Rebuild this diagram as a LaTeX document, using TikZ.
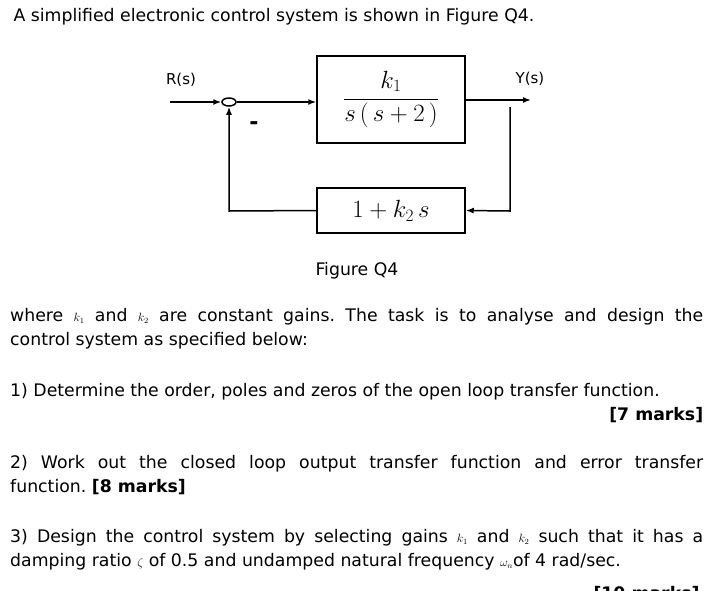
\documentclass[tikz,border=0pt]{standalone}
\usepackage{fontspec}
\setmainfont{DejaVu Sans}
\usetikzlibrary{positioning,arrows.meta,shapes.geometric}
\tikzset{block/.style={draw,line width=1.5pt,minimum width=148pt,inner sep=0pt},
         sig/.style={line width=1.5pt,-{Latex[length=8pt,width=6pt]}},
         para/.style={anchor=north west,text width=693pt,align=justify,inner sep=0pt,font=\fontsize{17.3}{24.5}\selectfont},
         lbl/.style={font=\fontsize{15}{15}\selectfont}}
\newcommand{\kk}[1]{{\fontsize{12}{12}\selectfont$k_{#1}$}}

\begin{document}
\begin{tikzpicture}[x=1pt,y=1pt,font=\fontsize{17.3}{20}\selectfont]
\frenchspacing
\useasboundingbox (0,0) rectangle (720,-590);

\node[anchor=west] (title) at (10,-17) {A simplified electronic control system is shown in Figure Q4.};

\node[block,minimum height=87pt] (G) at (391,-99.5) {};
\node[font=\fontsize{24}{28}\selectfont] (Gtxt) at (G) {$\displaystyle\frac{k_1}{s\,(\,s+2\,)}$};
\node[block,minimum height=45pt] (H) at (391,-210.5) {};
\node[font=\fontsize{24}{28}\selectfont] (Htxt) at (H) {$1+k_2\,s$};

\node[ellipse,draw,line width=1.5pt,minimum width=14pt,minimum height=8pt,inner sep=0pt] (sum) at (229,-102) {};
\coordinate (in) at (170,-102);
\coordinate (out) at (531,-100);
\coordinate (tap) at (510,-107);
\coordinate (tapb) at (510,-211);
\coordinate (fbl) at (229,-211);

\node[lbl] (R) at (181,-80) {R(s)};
\node[lbl] (Y) at (530,-79) {Y(s)};
\node[font=\fontsize{22}{22}\bfseries] (minus) at (254,-126) {-};

\draw[sig] (in) -- (sum.west);
\draw[sig] (sum.east) -- (G.west |- sum.east);
\draw[sig] (G.east |- out) -- (out);
\draw[sig] (tap) -- (tapb) -- (H.east);
\draw[sig] (H.west) -- (fbl) -- (sum.south);

\node (fig) at (357,-271) {Figure Q4};

\node[para] (p1) at (10,-308) {where \kk1 and \kk2 are constant gains. The task is to analyse and design the\linebreak control system as specified below:};
\node[para] (p2) at (10,-383) {1) Determine the order, poles and zeros of the open loop transfer function.\\ \mbox{}\hfill\textbf{[7 marks]}};
\node[para] (p3) at (10,-455) {2) Work out the closed loop output transfer function and error transfer\linebreak function. \textbf{[8 marks]}};
\node[para] (p4) at (10,-529) {3) Design the control system by selecting gains \kk1 and \kk2 such that it has a\linebreak damping ratio {\fontsize{12}{12}\selectfont$\zeta$} of 0.5 and undamped natural frequency {\fontsize{12}{12}\selectfont$\omega_n$}of 4 rad/sec.};
\begin{scope}
\clip (0,0) rectangle (720,-590);
\node[anchor=north east,font=\fontsize{17.3}{20}\bfseries] (m3) at (703,-583) {[10 marks]};
\end{scope}
\end{tikzpicture}
\end{document}
